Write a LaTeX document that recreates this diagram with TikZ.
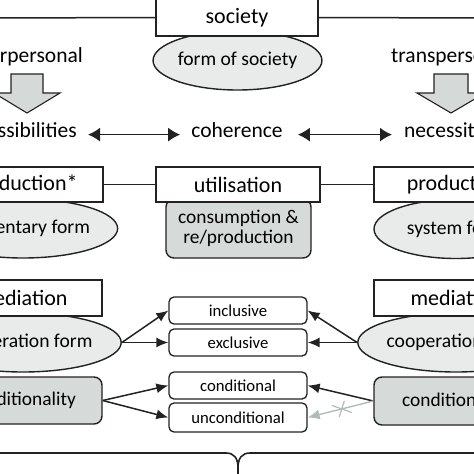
\documentclass[tikz,border=0pt]{standalone}
\usepackage{fontspec}
\setmainfont{Carlito}
\usetikzlibrary{arrows.meta,shapes.geometric}
\definecolor{ln}{HTML}{222222}
\definecolor{ellf}{HTML}{E8EBEA}
\definecolor{boxf}{HTML}{D6DBDA}
\definecolor{arrf}{HTML}{D5D9D8}
\definecolor{xg}{HTML}{B2BBB8}
\begin{document}
\begin{tikzpicture}[x=1pt,y=-1pt,
 hdr/.style={draw=ln, line width=1.4pt, fill=white, minimum width=164pt, minimum height=35pt, inner sep=0pt, font=\fontsize{22}{24}\selectfont},
 ell/.style={draw=ln, line width=1.4pt, fill=ellf, ellipse, minimum width=164pt, minimum height=59pt, inner sep=0pt, font=\fontsize{19.6}{22}\selectfont},
 gbox/.style={draw=ln, line width=1.4pt, fill=boxf, rounded corners=8pt, inner sep=0pt, align=center, font=\fontsize{19.4}{22}\selectfont},
 sbox/.style={draw=ln, line width=1.3pt, fill=white, rounded corners=5pt, minimum width=138pt, minimum height=27pt, inner sep=0pt, font=\fontsize{16.7}{19}\selectfont},
 lbl/.style={inner sep=0pt, font=\fontsize{21.5}{24}\selectfont},
 conn/.style={draw=ln, line width=1.5pt},
 arr/.style={conn, -{Latex[length=12pt,width=10pt]}},
 garr/.style={draw=xg, line width=1.4pt, -{Latex[length=12pt,width=10pt]}},
 dbl/.style={conn, {Latex[length=12pt,width=14pt]}-{Latex[length=12pt,width=14pt]}},
 blockarr/.style={draw=ln, line width=1.1pt, fill=arrf},
 xstroke/.style={draw=xg, line width=1.2pt},
]
\clip (0,0) rectangle (474,474);
% top row
\node[ell] (form) at (237.5,60.5) {form of society};
\node[hdr, minimum width=162pt, minimum height=37pt] (soc) at (237,17.5) {society};
\coordinate (edgeL) at (-5,18);
\coordinate (edgeR) at (480,18);
\draw[conn] (soc.west) -- (edgeL);
\draw[conn] (soc.east) -- (edgeR);
\node[lbl, anchor=base] (inter) at (24.5,62) {interpersonal};
\node[lbl, anchor=base] (trans) at (451,62) {transpersonal};
% block arrows
\draw[blockarr] (11,74) -- (43,74) -- (43,93) -- (60,93) -- (27,113) -- (-6,93) -- (11,93) -- cycle;
\draw[blockarr] (434,74) -- (468,74) -- (468,93) -- (485,93) -- (451,113) -- (417,93) -- (434,93) -- cycle;
% possibilities row
\node[lbl, anchor=base east] (poss) at (77,137) {possibilities};
\node[lbl, anchor=base] (coh) at (237,137) {coherence};
\node[lbl, anchor=base west] (nec) at (404,137) {necessities};
\draw[dbl, shorten <=11pt, shorten >=11pt] (poss.mid east) -- (coh.mid west);
\draw[dbl, shorten <=15pt, shorten >=12pt] (coh.mid east) -- (nec.mid west);
% second row
\node[ell, minimum width=160pt] (elem) at (23,228.5) {elementary form};
\node[gbox, minimum width=145pt, minimum height=59pt] (cons) at (238.5,228.5) {consumption \&\\[-2pt]re/production};
\node[ell] (sys) at (456,229) {system form};
\node[hdr, minimum width=160pt] (prodL) at (23,184.5) {production*};
\node[hdr] (util) at (238,184.5) {utilisation};
\node[hdr] (prodR) at (456,184.5) {production};
\draw[conn] (prodL.east) -- (util.west);
\draw[conn] (util.east) -- (prodR.west);
% third row
\node[ell, minimum width=160pt] (coopL) at (23,342.5) {cooperation form};
\node[ell] (coopR) at (456,342.5) {cooperation form};
\node[hdr, minimum width=160pt, minimum height=36pt] (medL) at (22,298) {mediation};
\node[hdr, minimum height=36pt] (medR) at (456,298) {mediation};
\node[gbox, minimum width=160pt, minimum height=47pt] (condL) at (22,400.5) {conditionality};
\node[gbox, minimum width=164pt, minimum height=48pt] (condR) at (456,401) {conditionality};
\node[sbox] (incl) at (238,310.5) {inclusive};
\node[sbox] (excl) at (238,342.5) {exclusive};
\node[sbox] (cond) at (238,385.5) {conditional};
\node[sbox, minimum height=29pt] (uncond) at (238,417.5) {unconditional};
\draw[arr] (coopL.east) -- (incl.west);
\draw[arr] (coopL.east) -- (excl.west);
\draw[arr] (coopR.west) -- (incl.east);
\draw[arr] (coopR.west) -- (excl.east);
\draw[arr] (condL.east) -- (cond.west);
\draw[arr] (condL.east) -- (uncond.west);
\draw[arr] (condR.west) -- (cond.east);
\draw[garr] (condR.west) -- coordinate[pos=0.48] (xm) (uncond.east);
\draw[xstroke] ([shift={(-10,-3.5)}]xm) -- ([shift={(10,3.5)}]xm);
\draw[xstroke] ([shift={(-2.5,8)}]xm) -- ([shift={(2.5,-8)}]xm);
% bottom brace
\coordinate (brtip) at (238,468);
\coordinate (brL) at (-5,453);
\coordinate (brR) at (480,453);
\draw[conn, line width=1.6pt] (brL) -- (226,453) .. controls (234,453) and (238,458) .. (brtip) -- (238,480);
\draw[conn, line width=1.6pt] (brR) -- (250,453) .. controls (242,453) and (238,458) .. (brtip);
\end{tikzpicture}
\end{document}
